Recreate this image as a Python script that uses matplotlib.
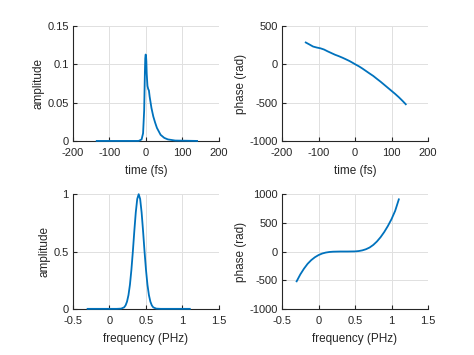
import numpy as np
import matplotlib.pyplot as plt

# === DATA ===
t_amp = [-135, -20, -12, -8, -5, -3, -2, -1, 0, 1, 2, 4, 6, 8, 10, 15, 20, 25, 30, 40, 50, 60, 80, 140]
amp_t = [0, 0, 0.002, 0.01, 0.04, 0.09, 0.108, 0.113, 0.112, 0.104, 0.088, 0.072, 0.068, 0.066, 0.058,
         0.043, 0.032, 0.024, 0.017, 0.008, 0.004, 0.002, 0.0005, 0]

t_ph = [-135, -125, -115, -105, -95, -85, -75, -65, -55, -45, -35, -25, -15, -5, 0, 10, 20, 30,
        40, 50, 60, 70, 80, 90, 100, 110, 120, 130, 139]
phase_t = [288, 262, 235, 222, 212, 196, 172, 150, 128, 110, 90, 68, 45, 18, 4, -22, -52, -85,
           -118, -150, -188, -225, -265, -305, -345, -385, -428, -475, -520]

f_amp = [-0.3, 0.1, 0.16, 0.2, 0.22, 0.24, 0.26, 0.28, 0.30, 0.32, 0.34, 0.36, 0.38, 0.40,
         0.42, 0.44, 0.46, 0.48, 0.50, 0.52, 0.54, 0.56, 0.58, 0.60, 0.64, 0.7, 1.1]
amp_f = [0, 0, 0.002, 0.013, 0.03, 0.063, 0.12, 0.21, 0.34, 0.5, 0.678, 0.841, 0.958, 1.0,
         0.958, 0.841, 0.678, 0.5, 0.34, 0.21, 0.12, 0.063, 0.03, 0.013, 0.002, 0, 0]

f_ph = [-0.3, -0.25, -0.2, -0.15, -0.1, -0.05, 0, 0.05, 0.1, 0.15, 0.2, 0.3, 0.4, 0.5, 0.55,
        0.6, 0.65, 0.7, 0.75, 0.8, 0.85, 0.9, 0.95, 1.0, 1.05, 1.1]
phase_f = [-520, -400, -300, -215, -150, -100, -62, -35, -18, -8, -3, 0, 0, 2, 8,
           20, 40, 70, 115, 175, 250, 340, 445, 565, 710, 910]

# === PLOT ===
plt.rcParams["font.family"] = ["Liberation Sans", "DejaVu Sans"]
fig = plt.figure(figsize=(4.74, 3.55), dpi=100, facecolor='white')

blue = '#0072BD'
lefts = [0.154, 0.595]
bottoms = [0.603, 0.130]
w, h = 0.308, 0.323

panels = [
    (t_amp, amp_t, (-200, 200), (0, 0.15), [-200, -100, 0, 100, 200], [0, 0.05, 0.1, 0.15],
     ['-200', '-100', '0', '100', '200'], ['0', '0.05', '0.1', '0.15'], "time (fs)", "amplitude"),
    (t_ph, phase_t, (-200, 200), (-1000, 500), [-200, -100, 0, 100, 200], [-1000, -500, 0, 500],
     ['-200', '-100', '0', '100', '200'], ['-1000', '-500', '0', '500'], "time (fs)", "phase (rad)"),
    (f_amp, amp_f, (-0.5, 1.5), (0, 1), [-0.5, 0, 0.5, 1, 1.5], [0, 0.5, 1],
     ['-0.5', '0', '0.5', '1', '1.5'], ['0', '0.5', '1'], "frequency (PHz)", "amplitude"),
    (f_ph, phase_f, (-0.5, 1.5), (-1000, 1000), [-0.5, 0, 0.5, 1, 1.5], [-1000, -500, 0, 500, 1000],
     ['-0.5', '0', '0.5', '1', '1.5'], ['-1000', '-500', '0', '500', '1000'], "frequency (PHz)", "phase (rad)"),
]

for i, (x, y, xl, yl, xt, yt, xtl, ytl, xlab, ylab) in enumerate(panels):
    ax = fig.add_axes([lefts[i % 2], bottoms[i // 2], w, h])
    ax.plot(x, y, color=blue, linewidth=1.3, clip_on=False, zorder=3)
    ax.set_xlim(*xl)
    ax.set_ylim(*yl)
    ax.set_xticks(xt)
    ax.set_yticks(yt)
    ax.set_xticklabels(xtl)
    ax.set_yticklabels(ytl)
    ax.grid(True, color='#e0e0e0', linewidth=0.7)
    ax.set_axisbelow(True)
    for s in ['top', 'right']:
        ax.spines[s].set_visible(False)
    for s in ['left', 'bottom']:
        ax.spines[s].set_color('#262626')
        ax.spines[s].set_linewidth(0.8)
    ax.tick_params(direction='in', length=3, width=0.8, labelsize=8, colors='#262626')
    ax.tick_params(axis='x', pad=5)
    ax.tick_params(axis='y', pad=3)
    ax.set_xlabel(xlab, fontsize=8.5, color='#262626', labelpad=5)
    ax.set_ylabel(ylab, fontsize=8.5, color='#262626', labelpad=2)

plt.savefig("out.png", dpi=100)
